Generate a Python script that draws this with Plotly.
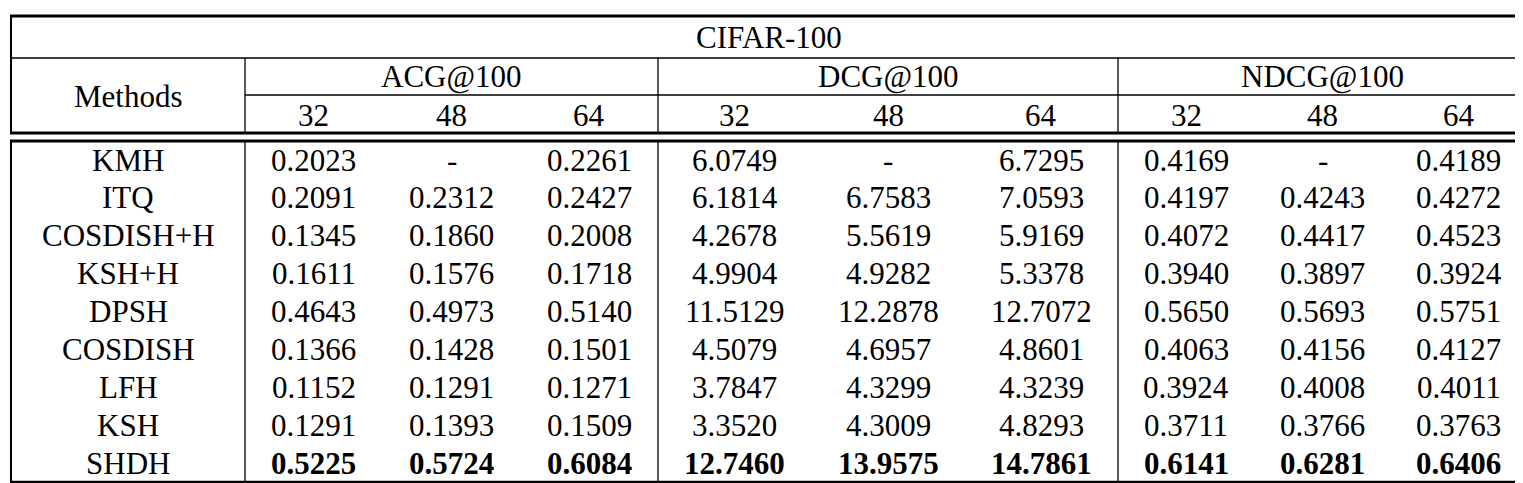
import plotly.graph_objects as go

methods = ["KMH", "ITQ", "COSDISH+H", "KSH+H", "DPSH", "COSDISH", "LFH", "KSH", "SHDH"]
metrics = ["ACG@100", "DCG@100", "NDCG@100"]
bits = ["32", "48", "64"]
acg = [["0.2023", "-", "0.2261"], ["0.2091", "0.2312", "0.2427"], ["0.1345", "0.1860", "0.2008"],
       ["0.1611", "0.1576", "0.1718"], ["0.4643", "0.4973", "0.5140"], ["0.1366", "0.1428", "0.1501"],
       ["0.1152", "0.1291", "0.1271"], ["0.1291", "0.1393", "0.1509"], ["0.5225", "0.5724", "0.6084"]]
dcg = [["6.0749", "-", "6.7295"], ["6.1814", "6.7583", "7.0593"], ["4.2678", "5.5619", "5.9169"],
       ["4.9904", "4.9282", "5.3378"], ["11.5129", "12.2878", "12.7072"], ["4.5079", "4.6957", "4.8601"],
       ["3.7847", "4.3299", "4.3239"], ["3.3520", "4.3009", "4.8293"], ["12.7460", "13.9575", "14.7861"]]
ndcg = [["0.4169", "-", "0.4189"], ["0.4197", "0.4243", "0.4272"], ["0.4072", "0.4417", "0.4523"],
        ["0.3940", "0.3897", "0.3924"], ["0.5650", "0.5693", "0.5751"], ["0.4063", "0.4156", "0.4127"],
        ["0.3924", "0.4008", "0.4011"], ["0.3711", "0.3766", "0.3763"], ["0.6141", "0.6281", "0.6406"]]
title = "CIFAR-100"
best = "SHDH"

W, H = 1523, 483
FONT = "'Liberation Serif', 'Times New Roman', Times, serif"
FS = 31
xl, xr = 3, 1519
vlines = [237, 650, 1110]
group_bounds = [(237, 650), (650, 1110), (1110, 1519)]
row0, rstep = 152, 37.9

fig = go.Figure()
shapes = []
ann = []

def hline(x0, x1, y, w=2):
    shapes.append(dict(type="line", x0=x0, x1=x1, y0=y, y1=y, line=dict(color="black", width=w)))

def vline(x, y0, y1, w=1.3):
    shapes.append(dict(type="line", x0=x, x1=x, y0=y0, y1=y1, line=dict(color="black", width=w)))

def text(x, y, s, bold=False):
    ann.append(dict(x=x, y=y, text=f"<b>{s}</b>" if bold else s, showarrow=False,
                    font=dict(family=FONT, size=FS, color="black"), xanchor="center", yanchor="middle"))

hline(xl - 1, xr + 1, 8, 3)
hline(xl, xr, 50, 1.3)
hline(vlines[0], xr, 87, 1.3)
hline(xl - 1, xr + 1, 125, 3)
hline(xl - 1, xr + 1, 133, 3)
bottom = row0 + rstep * (len(methods) - 1) + 19
hline(xl - 1, xr + 1, bottom, 3)
vline(xl, 8, 125, 2); vline(xr, 8, 125, 2)
vline(xl, 133, bottom, 2); vline(xr, 133, bottom, 2)
for v in vlines:
    vline(v, 50, 125)
    vline(v, 133, bottom)

text((xl + xr) / 2, 29, title)
text((xl + vlines[0]) / 2, 88, "Methods")
tables = [acg, dcg, ndcg]
for g, (a, b) in enumerate(group_bounds):
    text((a + b) / 2, 68, metrics[g])
    cw = (b - a) / 3
    for j, bt in enumerate(bits):
        text(a + cw * (j + 0.5), 107, bt)
for i, m in enumerate(methods):
    y = row0 + rstep * i
    text((xl + vlines[0]) / 2, y, m)
    for g, (a, b) in enumerate(group_bounds):
        cw = (b - a) / 3
        for j in range(3):
            text(a + cw * (j + 0.5), y, tables[g][i][j], bold=(m == best))

fig.update_layout(width=W, height=H, margin=dict(l=0, r=0, t=0, b=0),
                  paper_bgcolor="white", plot_bgcolor="white", shapes=shapes, annotations=ann,
                  xaxis=dict(range=[0, W], visible=False, fixedrange=True),
                  yaxis=dict(range=[H, 0], visible=False, fixedrange=True), showlegend=False)
fig.write_html("out.html", config={"displayModeBar": False})
